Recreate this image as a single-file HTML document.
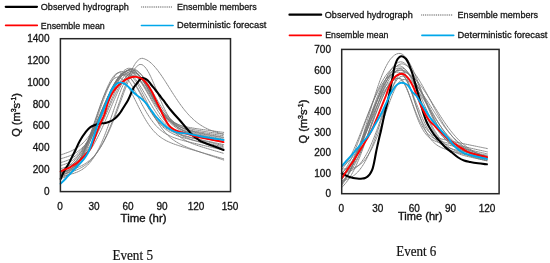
<!DOCTYPE html>
<html><head><meta charset="utf-8"><title>Event 5 and Event 6 hydrographs</title>
<style>
html,body{margin:0;padding:0;background:#fff;width:550px;height:263px;overflow:hidden}
svg{display:block}
text{font-family:"Liberation Sans",Arial,sans-serif;fill:#141414}
.lg text{font-size:9.8px;stroke:#141414;stroke-width:0.3px}
.tk text{font-size:10px;stroke:#141414;stroke-width:0.3px}
.ax text{font-size:11.8px;stroke:#141414;stroke-width:0.4px}
.ev text{font-family:"Liberation Serif","Times New Roman",serif;font-size:14px;fill:#111;stroke:#111;stroke-width:0.2px}
.dot{stroke:#8a8a8a;stroke-width:1.4;stroke-dasharray:1 0.86;stroke-linecap:butt}
.ens{stroke:#757575;stroke-width:0.85;stroke-dasharray:1 0.9}
</style></head>
<body>
<svg width="550" height="263" viewBox="0 0 550 263">
<rect width="550" height="263" fill="#fff"/>
<g stroke-linecap="round">
<line x1="5.7" y1="6.85" x2="37.0" y2="6.85" stroke="#000" stroke-width="2.1"/>
<line x1="5.6" y1="25.4" x2="37.3" y2="25.4" stroke="#f00" stroke-width="1.6"/>
<line x1="141.2" y1="7.05" x2="172.0" y2="7.05" class="dot"/>
<line x1="141.4" y1="25.45" x2="173.1" y2="25.45" stroke="#00a7ea" stroke-width="1.6"/>
<line x1="289.4" y1="14.65" x2="321.2" y2="14.65" stroke="#000" stroke-width="2.1"/>
<line x1="289.4" y1="35.4" x2="321.2" y2="35.4" stroke="#f00" stroke-width="1.6"/>
<line x1="421.2" y1="15.0" x2="453.0" y2="15.0" class="dot"/>
<line x1="421.9" y1="35.4" x2="453.7" y2="35.4" stroke="#00a7ea" stroke-width="1.6"/>
</g>
<g class="lg">
<text x="40.8" y="9.9" textLength="88" lengthAdjust="spacingAndGlyphs">Observed hydrograph</text>
<text x="40.8" y="28.5" textLength="64" lengthAdjust="spacingAndGlyphs">Ensemble mean</text>
<text x="177" y="9.8" textLength="79.8" lengthAdjust="spacingAndGlyphs">Ensemble members</text>
<text x="177" y="28.4" textLength="89.4" lengthAdjust="spacingAndGlyphs">Deterministic forecast</text>
<text x="324.8" y="17.9" textLength="87.9" lengthAdjust="spacingAndGlyphs">Observed hydrograph</text>
<text x="325.2" y="38.2" textLength="63.2" lengthAdjust="spacingAndGlyphs">Ensemble mean</text>
<text x="457.6" y="18" textLength="80.4" lengthAdjust="spacingAndGlyphs">Ensemble members</text>
<text x="457.6" y="38" textLength="89.8" lengthAdjust="spacingAndGlyphs">Deterministic forecast</text>
</g>
<g class="tk">
<text x="49.5" y="194.90" text-anchor="end">0</text>
<text x="49.5" y="173.06" text-anchor="end">200</text>
<text x="49.5" y="151.21" text-anchor="end">400</text>
<text x="49.5" y="129.37" text-anchor="end">600</text>
<text x="49.5" y="107.53" text-anchor="end">800</text>
<text x="49.5" y="85.69" text-anchor="end">1000</text>
<text x="49.5" y="63.84" text-anchor="end">1200</text>
<text x="49.5" y="42.00" text-anchor="end">1400</text>
<text x="60.10" y="209.9" text-anchor="middle">0</text>
<text x="94.10" y="209.9" text-anchor="middle">30</text>
<text x="128.10" y="209.9" text-anchor="middle">60</text>
<text x="162.10" y="209.9" text-anchor="middle">90</text>
<text x="196.10" y="209.9" text-anchor="middle">120</text>
<text x="230.10" y="209.9" text-anchor="middle">150</text>
<text x="331.0" y="197.40" text-anchor="end">0</text>
<text x="331.0" y="176.79" text-anchor="end">100</text>
<text x="331.0" y="156.17" text-anchor="end">200</text>
<text x="331.0" y="135.56" text-anchor="end">300</text>
<text x="331.0" y="114.94" text-anchor="end">400</text>
<text x="331.0" y="94.33" text-anchor="end">500</text>
<text x="331.0" y="73.71" text-anchor="end">600</text>
<text x="331.0" y="53.10" text-anchor="end">700</text>
<text x="341.40" y="212.3" text-anchor="middle">0</text>
<text x="377.80" y="212.3" text-anchor="middle">30</text>
<text x="414.20" y="212.3" text-anchor="middle">60</text>
<text x="450.60" y="212.3" text-anchor="middle">90</text>
<text x="487.00" y="212.3" text-anchor="middle">120</text>
</g>
<g class="ax">
<text x="120.6" y="221.5" textLength="45.9" lengthAdjust="spacingAndGlyphs">Time (hr)</text>
<text transform="translate(20.4,136.8) rotate(-90)" textLength="43.8" lengthAdjust="spacingAndGlyphs">Q (m<tspan font-size="7.5" dy="-4">3</tspan><tspan dy="4">s</tspan><tspan font-size="7.5" dy="-4">-1</tspan><tspan dy="4">)</tspan></text>
<text x="398" y="220.4" textLength="44.4" lengthAdjust="spacingAndGlyphs">Time (hr)</text>
<text transform="translate(307.3,143.4) rotate(-90)" textLength="43.8" lengthAdjust="spacingAndGlyphs">Q (m<tspan font-size="7.5" dy="-4">3</tspan><tspan dy="4">s</tspan><tspan font-size="7.5" dy="-4">-1</tspan><tspan dy="4">)</tspan></text>
</g>
<g fill="none" stroke-linecap="round" stroke-linejoin="round">
<path class="ens" d="M60.40,177.40 L62.67,176.91 L64.94,176.20 L67.20,175.16 L69.47,173.71 L71.74,171.77 L74.01,169.31 L76.28,166.28 L78.54,162.68 L80.81,158.49 L83.08,153.74 L85.35,148.46 L87.62,142.71 L89.88,136.55 L92.15,130.07 L94.42,123.38 L96.69,116.58 L98.96,109.81 L101.22,103.20 L103.49,96.89 L105.76,91.04 L108.03,85.77 L110.30,81.23 L112.56,77.54 L114.83,74.81 L117.10,73.13 L119.37,72.56 L121.64,73.45 L123.90,75.06 L126.17,77.36 L128.44,80.25 L130.71,83.67 L132.98,87.48 L135.24,91.59 L137.51,95.87 L139.78,100.20 L142.05,104.48 L144.32,108.62 L146.58,112.55 L148.85,116.21 L151.12,119.56 L153.39,122.59 L155.66,125.29 L157.92,127.67 L160.19,129.74 L162.46,131.55 L164.73,133.11 L167.00,134.47 L169.26,135.64 L171.53,136.67 L173.80,137.57 L176.07,138.38 L178.34,139.12 L180.60,139.79 L182.87,140.43 L185.14,141.03 L187.41,141.61 L189.68,142.17 L191.94,142.71 L194.21,143.26 L196.48,143.79 L198.75,144.32 L201.02,144.85 L203.28,145.38 L205.55,145.90 L207.82,146.43 L210.09,146.95 L212.36,147.48 L214.62,148.00 L216.89,148.53 L219.16,149.05 L221.43,149.57 L223.70,150.10"/>
<path class="ens" d="M60.40,175.22 L62.67,174.73 L64.94,174.05 L67.20,173.07 L69.47,171.72 L71.74,169.94 L74.01,167.68 L76.28,164.91 L78.54,161.61 L80.81,157.79 L83.08,153.44 L85.35,148.59 L87.62,143.29 L89.88,137.59 L92.15,131.56 L94.42,125.29 L96.69,118.86 L98.96,112.39 L101.22,105.99 L103.49,99.78 L105.76,93.90 L108.03,88.46 L110.30,83.59 L112.56,79.41 L114.83,76.03 L117.10,73.53 L119.37,71.99 L121.64,71.46 L123.90,72.28 L126.17,73.74 L128.44,75.81 L130.71,78.44 L132.98,81.55 L135.24,85.05 L137.51,88.85 L139.78,92.85 L142.05,96.93 L144.32,101.02 L146.58,105.02 L148.85,108.87 L151.12,112.51 L153.39,115.90 L155.66,119.01 L157.92,121.82 L160.19,124.34 L162.46,126.58 L164.73,128.54 L167.00,130.26 L169.26,131.76 L171.53,133.06 L173.80,134.20 L176.07,135.20 L178.34,136.08 L180.60,136.86 L182.87,137.58 L185.14,138.23 L187.41,138.83 L189.68,139.41 L191.94,139.95 L194.21,140.48 L196.48,140.99 L198.75,141.49 L201.02,141.99 L203.28,142.48 L205.55,142.97 L207.82,143.45 L210.09,143.93 L212.36,144.42 L214.62,144.90 L216.89,145.38 L219.16,145.86 L221.43,146.34 L223.70,146.82"/>
<path class="ens" d="M60.40,178.49 L62.67,177.98 L64.94,177.19 L67.20,176.01 L69.47,174.37 L71.74,172.19 L74.01,169.46 L76.28,166.15 L78.54,162.25 L80.81,157.79 L83.08,152.80 L85.35,147.33 L87.62,141.44 L89.88,135.21 L92.15,128.76 L94.42,122.17 L96.69,115.58 L98.96,109.11 L101.22,102.90 L103.49,97.07 L105.76,91.77 L108.03,87.11 L110.30,83.22 L112.56,80.19 L114.83,78.12 L117.10,77.06 L119.37,77.35 L121.64,78.80 L123.90,81.01 L126.17,83.91 L128.44,87.40 L130.71,91.36 L132.98,95.65 L135.24,100.13 L137.51,104.68 L139.78,109.18 L142.05,113.51 L144.32,117.60 L146.58,121.38 L148.85,124.83 L151.12,127.91 L153.39,130.65 L155.66,133.05 L157.92,135.13 L160.19,136.94 L162.46,138.51 L164.73,139.87 L167.00,141.06 L169.26,142.12 L171.53,143.08 L173.80,143.95 L176.07,144.75 L178.34,145.52 L180.60,146.25 L182.87,146.95 L185.14,147.64 L187.41,148.32 L189.68,148.98 L191.94,149.65 L194.21,150.31 L196.48,150.97 L198.75,151.62 L201.02,152.28 L203.28,152.94 L205.55,153.59 L207.82,154.25 L210.09,154.90 L212.36,155.56 L214.62,156.21 L216.89,156.87 L219.16,157.53 L221.43,158.18 L223.70,158.84"/>
<path class="ens" d="M60.40,155.01 L62.67,154.25 L64.94,153.46 L67.20,152.64 L69.47,151.74 L71.74,150.74 L74.01,149.60 L76.28,148.28 L78.54,146.75 L80.81,144.98 L83.08,142.92 L85.35,140.56 L87.62,137.88 L89.88,134.84 L92.15,131.46 L94.42,127.73 L96.69,123.67 L98.96,119.30 L101.22,114.67 L103.49,109.82 L105.76,104.84 L108.03,99.80 L110.30,94.80 L112.56,89.95 L114.83,85.38 L117.10,81.20 L119.37,77.54 L121.64,74.53 L123.90,72.26 L126.17,70.85 L128.44,70.37 L130.71,71.02 L132.98,72.33 L135.24,74.26 L137.51,76.75 L139.78,79.72 L142.05,83.05 L144.32,86.66 L146.58,90.42 L148.85,94.23 L151.12,98.00 L153.39,101.63 L155.66,105.07 L157.92,108.26 L160.19,111.17 L162.46,113.78 L164.73,116.09 L167.00,118.10 L169.26,119.84 L171.53,121.33 L173.80,122.59 L176.07,123.66 L178.34,124.56 L180.60,125.33 L182.87,125.99 L185.14,126.56 L187.41,127.06 L189.68,127.50 L191.94,127.91 L194.21,128.28 L196.48,128.64 L198.75,128.98 L201.02,129.31 L203.28,129.63 L205.55,129.94 L207.82,130.26 L210.09,130.56 L212.36,130.87 L214.62,131.18 L216.89,131.49 L219.16,131.79 L221.43,132.10 L223.70,132.41"/>
<path class="ens" d="M60.40,158.84 L62.67,158.18 L64.94,157.49 L67.20,156.75 L69.47,155.91 L71.74,154.94 L74.01,153.81 L76.28,152.47 L78.54,150.90 L80.81,149.06 L83.08,146.92 L85.35,144.47 L87.62,141.68 L89.88,138.54 L92.15,135.06 L94.42,131.24 L96.69,127.09 L98.96,122.64 L101.22,117.94 L103.49,113.04 L105.76,107.99 L108.03,102.87 L110.30,97.77 L112.56,92.78 L114.83,88.01 L117.10,83.55 L119.37,79.52 L121.64,76.03 L123.90,73.17 L126.17,71.05 L128.44,69.73 L130.71,69.28 L132.98,69.99 L135.24,71.40 L137.51,73.48 L139.78,76.15 L142.05,79.32 L144.32,82.88 L146.58,86.73 L148.85,90.75 L151.12,94.82 L153.39,98.84 L155.66,102.72 L157.92,106.39 L160.19,109.80 L162.46,112.91 L164.73,115.71 L167.00,118.18 L169.26,120.34 L171.53,122.21 L173.80,123.81 L176.07,125.18 L178.34,126.34 L180.60,127.32 L182.87,128.16 L185.14,128.88 L187.41,129.51 L189.68,130.06 L191.94,130.56 L194.21,131.02 L196.48,131.44 L198.75,131.84 L201.02,132.23 L203.28,132.60 L205.55,132.97 L207.82,133.33 L210.09,133.68 L212.36,134.04 L214.62,134.39 L216.89,134.74 L219.16,135.09 L221.43,135.44 L223.70,135.79"/>
<path class="ens" d="M60.40,162.66 L62.67,161.99 L64.94,161.28 L67.20,160.45 L69.47,159.47 L71.74,158.28 L74.01,156.85 L76.28,155.12 L78.54,153.07 L80.81,150.66 L83.08,147.88 L85.35,144.71 L87.62,141.15 L89.88,137.20 L92.15,132.88 L94.42,128.24 L96.69,123.30 L98.96,118.13 L101.22,112.80 L103.49,107.39 L105.76,102.00 L108.03,96.73 L110.30,91.69 L112.56,86.99 L114.83,82.74 L117.10,79.07 L119.37,76.08 L121.64,73.85 L123.90,72.48 L126.17,72.01 L128.44,72.81 L130.71,74.24 L132.98,76.26 L135.24,78.82 L137.51,81.84 L139.78,85.25 L142.05,88.94 L144.32,92.81 L146.58,96.78 L148.85,100.75 L151.12,104.64 L153.39,108.38 L155.66,111.91 L157.92,115.20 L160.19,118.23 L162.46,120.96 L164.73,123.42 L167.00,125.59 L169.26,127.51 L171.53,129.19 L173.80,130.65 L176.07,131.93 L178.34,133.04 L180.60,134.02 L182.87,134.89 L185.14,135.67 L187.41,136.37 L189.68,137.02 L191.94,137.62 L194.21,138.19 L196.48,138.73 L198.75,139.26 L201.02,139.77 L203.28,140.27 L205.55,140.77 L207.82,141.26 L210.09,141.74 L212.36,142.23 L214.62,142.71 L216.89,143.19 L219.16,143.68 L221.43,144.16 L223.70,144.64"/>
<path class="ens" d="M60.40,165.61 L62.67,164.94 L64.94,164.18 L67.20,163.29 L69.47,162.20 L71.74,160.87 L74.01,159.27 L76.28,157.35 L78.54,155.10 L80.81,152.50 L83.08,149.53 L85.35,146.19 L87.62,142.48 L89.88,138.42 L92.15,134.03 L94.42,129.34 L96.69,124.40 L98.96,119.25 L101.22,113.97 L103.49,108.60 L105.76,103.24 L108.03,97.96 L110.30,92.85 L112.56,88.00 L114.83,83.50 L117.10,79.43 L119.37,75.88 L121.64,72.93 L123.90,70.65 L126.17,69.08 L128.44,68.29 L130.71,68.43 L132.98,69.40 L135.24,70.99 L137.51,73.16 L139.78,75.83 L142.05,78.93 L144.32,82.36 L146.58,86.04 L148.85,89.85 L151.12,93.72 L153.39,97.53 L155.66,101.24 L157.92,104.76 L160.19,108.05 L162.46,111.08 L164.73,113.83 L167.00,116.30 L169.26,118.47 L171.53,120.38 L173.80,122.04 L176.07,123.46 L178.34,124.68 L180.60,125.73 L182.87,126.63 L185.14,127.40 L187.41,128.07 L189.68,128.66 L191.94,129.18 L194.21,129.65 L196.48,130.09 L198.75,130.49 L201.02,130.87 L203.28,131.24 L205.55,131.59 L207.82,131.94 L210.09,132.27 L212.36,132.61 L214.62,132.94 L216.89,133.27 L219.16,133.60 L221.43,133.93 L223.70,134.26"/>
<path class="ens" d="M60.40,168.77 L62.67,168.11 L64.94,167.40 L67.20,166.61 L69.47,165.68 L71.74,164.57 L74.01,163.26 L76.28,161.70 L78.54,159.86 L80.81,157.72 L83.08,155.24 L85.35,152.43 L87.62,149.25 L89.88,145.73 L92.15,141.85 L94.42,137.64 L96.69,133.11 L98.96,128.32 L101.22,123.29 L103.49,118.09 L105.76,112.78 L108.03,107.44 L110.30,102.14 L112.56,96.98 L114.83,92.04 L117.10,87.43 L119.37,83.23 L121.64,79.55 L123.90,76.46 L126.17,74.06 L128.44,72.41 L130.71,71.57 L132.98,71.77 L135.24,72.89 L137.51,74.67 L139.78,77.06 L142.05,79.97 L144.32,83.31 L146.58,86.99 L148.85,90.87 L151.12,94.86 L153.39,98.85 L155.66,102.75 L157.92,106.48 L160.19,109.98 L162.46,113.21 L164.73,116.14 L167.00,118.77 L169.26,121.09 L171.53,123.12 L173.80,124.88 L176.07,126.40 L178.34,127.71 L180.60,128.84 L182.87,129.81 L185.14,130.66 L187.41,131.40 L189.68,132.07 L191.94,132.67 L194.21,133.23 L196.48,133.75 L198.75,134.25 L201.02,134.73 L203.28,135.19 L205.55,135.65 L207.82,136.10 L210.09,136.54 L212.36,136.98 L214.62,137.42 L216.89,137.86 L219.16,138.30 L221.43,138.74 L223.70,139.18"/>
<path class="ens" d="M60.40,170.85 L62.67,169.72 L64.94,168.47 L67.20,167.02 L69.47,165.32 L71.74,163.35 L74.01,161.07 L76.28,158.48 L78.54,155.55 L80.81,152.28 L83.08,148.69 L85.35,144.79 L87.62,140.60 L89.88,136.14 L92.15,131.46 L94.42,126.58 L96.69,121.58 L98.96,116.49 L101.22,111.37 L103.49,106.29 L105.76,101.31 L108.03,96.49 L110.30,91.90 L112.56,87.61 L114.83,83.66 L117.10,80.13 L119.37,77.06 L121.64,74.49 L123.90,72.46 L126.17,71.00 L128.44,70.12 L130.71,69.83 L132.98,70.53 L135.24,71.86 L137.51,73.78 L139.78,76.22 L142.05,79.12 L144.32,82.40 L146.58,85.96 L148.85,89.70 L151.12,93.54 L153.39,97.37 L155.66,101.13 L157.92,104.73 L160.19,108.14 L162.46,111.31 L164.73,114.21 L167.00,116.83 L169.26,119.16 L171.53,121.23 L173.80,123.04 L176.07,124.61 L178.34,125.98 L180.60,127.16 L182.87,128.18 L185.14,129.06 L187.41,129.84 L189.68,130.52 L191.94,131.14 L194.21,131.69 L196.48,132.21 L198.75,132.69 L201.02,133.14 L203.28,133.58 L205.55,134.00 L207.82,134.42 L210.09,134.83 L212.36,135.23 L214.62,135.63 L216.89,136.02 L219.16,136.42 L221.43,136.82 L223.70,137.21"/>
<path class="ens" d="M60.40,172.49 L62.67,171.37 L64.94,170.16 L67.20,168.80 L69.47,167.23 L71.74,165.42 L74.01,163.35 L76.28,160.98 L78.54,158.31 L80.81,155.31 L83.08,152.00 L85.35,148.38 L87.62,144.45 L89.88,140.24 L92.15,135.77 L94.42,131.07 L96.69,126.19 L98.96,121.17 L101.22,116.06 L103.49,110.92 L105.76,105.81 L108.03,100.79 L110.30,95.92 L112.56,91.28 L114.83,86.92 L117.10,82.91 L119.37,79.31 L121.64,76.17 L123.90,73.54 L126.17,71.45 L128.44,69.95 L130.71,69.04 L132.98,68.73 L135.24,69.46 L137.51,70.82 L139.78,72.80 L142.05,75.33 L144.32,78.34 L146.58,81.73 L148.85,85.43 L151.12,89.31 L153.39,93.29 L155.66,97.26 L157.92,101.16 L160.19,104.90 L162.46,108.43 L164.73,111.72 L167.00,114.72 L169.26,117.43 L171.53,119.85 L173.80,121.99 L176.07,123.86 L178.34,125.48 L180.60,126.89 L182.87,128.10 L185.14,129.14 L187.41,130.05 L189.68,130.84 L191.94,131.54 L194.21,132.16 L196.48,132.73 L198.75,133.24 L201.02,133.73 L203.28,134.19 L205.55,134.63 L207.82,135.05 L210.09,135.47 L212.36,135.87 L214.62,136.28 L216.89,136.68 L219.16,137.07 L221.43,137.47 L223.70,137.86"/>
<path class="ens" d="M60.40,171.94 L62.67,171.03 L64.94,169.98 L67.20,168.71 L69.47,167.18 L71.74,165.33 L74.01,163.14 L76.28,160.60 L78.54,157.68 L80.81,154.39 L83.08,150.72 L85.35,146.70 L87.62,142.35 L89.88,137.70 L92.15,132.78 L94.42,127.65 L96.69,122.37 L98.96,116.99 L101.22,111.59 L103.49,106.23 L105.76,101.00 L108.03,95.96 L110.30,91.20 L112.56,86.79 L114.83,82.80 L117.10,79.30 L119.37,76.36 L121.64,74.01 L123.90,72.30 L126.17,71.26 L128.44,70.92 L130.71,71.76 L132.98,73.20 L135.24,75.20 L137.51,77.71 L139.78,80.67 L142.05,84.01 L144.32,87.65 L146.58,91.49 L148.85,95.46 L151.12,99.47 L153.39,103.44 L155.66,107.31 L157.92,111.01 L160.19,114.52 L162.46,117.78 L164.73,120.79 L167.00,123.53 L169.26,126.01 L171.53,128.23 L173.80,130.20 L176.07,131.95 L178.34,133.50 L180.60,134.86 L182.87,136.07 L185.14,137.15 L187.41,138.11 L189.68,138.99 L191.94,139.78 L194.21,140.52 L196.48,141.21 L198.75,141.86 L201.02,142.49 L203.28,143.09 L205.55,143.67 L207.82,144.25 L210.09,144.81 L212.36,145.37 L214.62,145.93 L216.89,146.48 L219.16,147.03 L221.43,147.58 L223.70,148.13"/>
<path class="ens" d="M60.40,173.58 L62.67,172.70 L64.94,171.76 L67.20,170.72 L69.47,169.53 L71.74,168.17 L74.01,166.59 L76.28,164.76 L78.54,162.66 L80.81,160.28 L83.08,157.58 L85.35,154.56 L87.62,151.23 L89.88,147.58 L92.15,143.62 L94.42,139.38 L96.69,134.87 L98.96,130.14 L101.22,125.22 L103.49,120.17 L105.76,115.04 L108.03,109.89 L110.30,104.80 L112.56,99.83 L114.83,95.06 L117.10,90.56 L119.37,86.42 L121.64,82.70 L123.90,79.47 L126.17,76.81 L128.44,74.75 L130.71,73.35 L132.98,72.65 L135.24,72.86 L137.51,73.99 L139.78,75.78 L142.05,78.19 L144.32,81.12 L146.58,84.49 L148.85,88.19 L151.12,92.10 L153.39,96.12 L155.66,100.14 L157.92,104.07 L160.19,107.83 L162.46,111.36 L164.73,114.62 L167.00,117.57 L169.26,120.22 L171.53,122.55 L173.80,124.60 L176.07,126.37 L178.34,127.90 L180.60,129.22 L182.87,130.35 L185.14,131.32 L187.41,132.18 L189.68,132.92 L191.94,133.59 L194.21,134.20 L196.48,134.76 L198.75,135.28 L201.02,135.78 L203.28,136.26 L205.55,136.72 L207.82,137.18 L210.09,137.63 L212.36,138.07 L214.62,138.51 L216.89,138.95 L219.16,139.39 L221.43,139.83 L223.70,140.27"/>
<path class="ens" d="M60.40,174.13 L62.67,173.43 L64.94,172.59 L67.20,171.52 L69.47,170.17 L71.74,168.49 L74.01,166.45 L76.28,164.03 L78.54,161.20 L80.81,157.97 L83.08,154.33 L85.35,150.31 L87.62,145.91 L89.88,141.19 L92.15,136.17 L94.42,130.92 L96.69,125.48 L98.96,119.94 L101.22,114.35 L103.49,108.81 L105.76,103.40 L108.03,98.19 L110.30,93.29 L112.56,88.76 L114.83,84.71 L117.10,81.19 L119.37,78.28 L121.64,76.04 L123.90,74.52 L126.17,73.75 L128.44,74.12 L130.71,75.63 L132.98,77.84 L135.24,80.71 L137.51,84.14 L139.78,88.03 L142.05,92.28 L144.32,96.76 L146.58,101.35 L148.85,105.95 L151.12,110.44 L153.39,114.76 L155.66,118.82 L157.92,122.60 L160.19,126.05 L162.46,129.17 L164.73,131.97 L167.00,134.45 L169.26,136.64 L171.53,138.57 L173.80,140.28 L176.07,141.78 L178.34,143.13 L180.60,144.33 L182.87,145.43 L185.14,146.44 L187.41,147.39 L189.68,148.28 L191.94,149.14 L194.21,149.97 L196.48,150.78 L198.75,151.57 L201.02,152.36 L203.28,153.13 L205.55,153.91 L207.82,154.68 L210.09,155.44 L212.36,156.21 L214.62,156.98 L216.89,157.74 L219.16,158.51 L221.43,159.27 L223.70,160.04"/>
<path class="ens" d="M60.40,173.03 L62.67,172.16 L64.94,171.25 L67.20,170.30 L69.47,169.25 L71.74,168.09 L74.01,166.77 L76.28,165.26 L78.54,163.53 L80.81,161.56 L83.08,159.31 L85.35,156.76 L87.62,153.90 L89.88,150.71 L92.15,147.19 L94.42,143.34 L96.69,139.17 L98.96,134.70 L101.22,129.95 L103.49,124.96 L105.76,119.79 L108.03,114.49 L110.30,109.12 L112.56,103.76 L114.83,98.50 L117.10,93.42 L119.37,88.62 L121.64,84.20 L123.90,80.24 L126.17,76.84 L128.44,74.08 L130.71,72.05 L132.98,70.80 L135.24,70.37 L137.51,71.42 L139.78,73.25 L142.05,75.81 L144.32,79.01 L146.58,82.78 L148.85,86.97 L151.12,91.48 L153.39,96.17 L155.66,100.92 L157.92,105.62 L160.19,110.16 L162.46,114.48 L164.73,118.50 L167.00,122.20 L169.26,125.54 L171.53,128.53 L173.80,131.18 L176.07,133.51 L178.34,135.55 L180.60,137.32 L182.87,138.86 L185.14,140.22 L187.41,141.41 L189.68,142.48 L191.94,143.44 L194.21,144.32 L196.48,145.14 L198.75,145.91 L201.02,146.65 L203.28,147.36 L205.55,148.06 L207.82,148.74 L210.09,149.41 L212.36,150.08 L214.62,150.74 L216.89,151.40 L219.16,152.06 L221.43,152.72 L223.70,153.37"/>
<path class="ens" d="M60.40,175.22 L62.67,174.53 L64.94,173.72 L67.20,172.70 L69.47,171.40 L71.74,169.77 L74.01,167.78 L76.28,165.39 L78.54,162.57 L80.81,159.31 L83.08,155.61 L85.35,151.48 L87.62,146.95 L89.88,142.04 L92.15,136.79 L94.42,131.28 L96.69,125.56 L98.96,119.72 L101.22,113.84 L103.49,108.01 L105.76,102.35 L108.03,96.95 L110.30,91.93 L112.56,87.37 L114.83,83.39 L117.10,80.08 L119.37,77.51 L121.64,75.75 L123.90,74.85 L126.17,75.11 L128.44,76.38 L130.71,78.36 L132.98,80.96 L135.24,84.11 L137.51,87.69 L139.78,91.57 L142.05,95.63 L144.32,99.76 L146.58,103.83 L148.85,107.75 L151.12,111.45 L153.39,114.87 L155.66,117.97 L157.92,120.75 L160.19,123.21 L162.46,125.36 L164.73,127.22 L167.00,128.82 L169.26,130.20 L171.53,131.40 L173.80,132.44 L176.07,133.36 L178.34,134.18 L180.60,134.92 L182.87,135.61 L185.14,136.25 L187.41,136.86 L189.68,137.46 L191.94,138.03 L194.21,138.60 L196.48,139.16 L198.75,139.71 L201.02,140.26 L203.28,140.81 L205.55,141.36 L207.82,141.91 L210.09,142.45 L212.36,143.00 L214.62,143.55 L216.89,144.09 L219.16,144.64 L221.43,145.18 L223.70,145.73"/>
<path class="ens" d="M60.40,176.31 L62.67,175.87 L64.94,175.43 L67.20,174.97 L69.47,174.47 L71.74,173.90 L74.01,173.24 L76.28,172.45 L78.54,171.50 L80.81,170.33 L83.08,168.91 L85.35,167.19 L87.62,165.12 L89.88,162.67 L92.15,159.79 L94.42,156.45 L96.69,152.62 L98.96,148.30 L101.22,143.48 L103.49,138.18 L105.76,132.44 L108.03,126.32 L110.30,119.91 L112.56,113.32 L114.83,106.69 L117.10,100.17 L119.37,93.97 L121.64,88.28 L123.90,83.31 L126.17,79.30 L128.44,76.44 L130.71,74.94 L132.98,75.06 L135.24,76.13 L137.51,77.77 L139.78,79.94 L142.05,82.57 L144.32,85.60 L146.58,88.94 L148.85,92.50 L151.12,96.19 L153.39,99.92 L155.66,103.61 L157.92,107.19 L160.19,110.61 L162.46,113.81 L164.73,116.78 L167.00,119.49 L169.26,121.93 L171.53,124.11 L173.80,126.05 L176.07,127.75 L178.34,129.24 L180.60,130.54 L182.87,131.68 L185.14,132.69 L187.41,133.58 L189.68,134.37 L191.94,135.09 L194.21,135.75 L196.48,136.37 L198.75,136.94 L201.02,137.49 L203.28,138.02 L205.55,138.54 L207.82,139.04 L210.09,139.54 L212.36,140.03 L214.62,140.52 L216.89,141.00 L219.16,141.49 L221.43,141.97 L223.70,142.45"/>
<path class="ens" d="M60.40,175.22 L62.67,174.56 L64.94,173.90 L67.20,173.23 L69.47,172.53 L71.74,171.79 L74.01,170.98 L76.28,170.08 L78.54,169.07 L80.81,167.91 L83.08,166.58 L85.35,165.04 L87.62,163.27 L89.88,161.22 L92.15,158.86 L94.42,156.17 L96.69,153.12 L98.96,149.69 L101.22,145.87 L103.49,141.63 L105.76,136.99 L108.03,131.95 L110.30,126.54 L112.56,120.80 L114.83,114.77 L117.10,108.52 L119.37,102.13 L121.64,95.71 L123.90,89.36 L126.17,83.22 L128.44,77.42 L130.71,72.12 L132.98,67.46 L135.24,63.61 L137.51,60.70 L139.78,58.88 L142.05,58.25 L144.32,58.80 L146.58,59.80 L148.85,61.22 L151.12,63.06 L153.39,65.27 L155.66,67.83 L157.92,70.68 L160.19,73.78 L162.46,77.08 L164.73,80.52 L167.00,84.07 L169.26,87.66 L171.53,91.26 L173.80,94.81 L176.07,98.28 L178.34,101.63 L180.60,104.84 L182.87,107.89 L185.14,110.75 L187.41,113.42 L189.68,115.89 L191.94,118.16 L194.21,120.23 L196.48,122.11 L198.75,123.81 L201.02,125.34 L203.28,126.71 L205.55,127.93 L207.82,129.02 L210.09,130.00 L212.36,130.87 L214.62,131.65 L216.89,132.35 L219.16,132.98 L221.43,133.56 L223.70,134.09"/>
<path class="ens" d="M60.40,173.03 L62.67,172.38 L64.94,171.72 L67.20,171.05 L69.47,170.37 L71.74,169.65 L74.01,168.89 L76.28,168.06 L78.54,167.13 L80.81,166.09 L83.08,164.90 L85.35,163.53 L87.62,161.95 L89.88,160.13 L92.15,158.03 L94.42,155.62 L96.69,152.88 L98.96,149.76 L101.22,146.26 L103.49,142.36 L105.76,138.05 L108.03,133.34 L110.30,128.25 L112.56,122.80 L114.83,117.04 L117.10,111.04 L119.37,104.89 L121.64,98.69 L123.90,92.55 L126.17,86.62 L128.44,81.05 L130.71,76.00 L132.98,71.65 L135.24,68.17 L137.51,65.71 L139.78,64.42 L142.05,64.63 L144.32,66.27 L146.58,69.06 L148.85,72.84 L151.12,77.44 L153.39,82.61 L155.66,88.13 L157.92,93.77 L160.19,99.30 L162.46,104.56 L164.73,109.41 L167.00,113.77 L169.26,117.59 L171.53,120.87 L173.80,123.63 L176.07,125.92 L178.34,127.80 L180.60,129.33 L182.87,130.58 L185.14,131.60 L187.41,132.45 L189.68,133.18 L191.94,133.81 L194.21,134.38 L196.48,134.90 L198.75,135.38 L201.02,135.85 L203.28,136.31 L205.55,136.76 L207.82,137.20 L210.09,137.64 L212.36,138.08 L214.62,138.52 L216.89,138.96 L219.16,139.40 L221.43,139.83 L223.70,140.27"/>
<path d="M60.60,179.00 C61.17,177.75 62.68,174.00 64.00,171.50 C65.32,169.00 67.12,166.52 68.50,164.00 C69.88,161.48 71.13,158.73 72.30,156.40 C73.47,154.07 74.25,152.57 75.50,150.00 C76.75,147.43 78.05,144.05 79.80,141.00 C81.55,137.95 84.23,134.00 86.00,131.70 C87.77,129.40 88.65,128.40 90.40,127.20 C92.15,126.00 94.87,125.12 96.50,124.50 C98.13,123.88 98.70,123.75 100.20,123.50 C101.70,123.25 103.73,123.40 105.50,123.00 C107.27,122.60 109.28,121.80 110.80,121.10 C112.32,120.40 113.33,119.82 114.60,118.80 C115.87,117.78 117.38,116.13 118.40,115.00 C119.42,113.87 119.85,113.25 120.70,112.00 C121.55,110.75 122.28,109.47 123.50,107.50 C124.72,105.53 126.85,102.28 128.00,100.20 C129.15,98.12 129.48,97.05 130.40,95.00 C131.32,92.95 132.53,89.68 133.50,87.90 C134.47,86.12 135.28,85.52 136.20,84.30 C137.12,83.08 138.20,81.53 139.00,80.60 C139.80,79.67 140.37,79.13 141.00,78.70 C141.63,78.27 142.13,78.02 142.80,78.00 C143.47,77.98 144.17,78.20 145.00,78.60 C145.83,79.00 146.80,79.42 147.80,80.40 C148.80,81.38 149.72,82.90 151.00,84.50 C152.28,86.10 154.12,88.25 155.50,90.00 C156.88,91.75 158.03,93.35 159.30,95.00 C160.57,96.65 161.83,98.23 163.10,99.90 C164.37,101.57 165.63,103.32 166.90,105.00 C168.17,106.68 169.35,108.33 170.70,110.00 C172.05,111.67 173.45,113.25 175.00,115.00 C176.55,116.75 178.40,118.67 180.00,120.50 C181.60,122.33 183.27,124.42 184.60,126.00 C185.93,127.58 186.93,128.73 188.00,130.00 C189.07,131.27 190.03,132.53 191.00,133.60 C191.97,134.67 192.70,135.50 193.80,136.40 C194.90,137.30 196.57,138.27 197.60,139.00 C198.63,139.73 198.77,140.13 200.00,140.80 C201.23,141.47 203.42,142.33 205.00,143.00 C206.58,143.67 208.12,144.30 209.50,144.80 C210.88,145.30 211.88,145.50 213.30,146.00 C214.72,146.50 216.28,147.15 218.00,147.80 C219.72,148.45 222.67,149.55 223.60,149.90" stroke="#000" stroke-width="2.1"/>
<path d="M60.60,171.50 C61.08,171.27 62.40,170.59 63.50,170.10 C64.60,169.61 66.03,169.04 67.20,168.54 C68.37,168.04 69.45,167.68 70.50,167.11 C71.55,166.54 72.30,165.92 73.50,165.10 C74.70,164.28 76.37,163.25 77.70,162.20 C79.03,161.15 80.37,159.90 81.50,158.80 C82.63,157.70 83.50,156.67 84.50,155.60 C85.50,154.53 86.58,153.45 87.50,152.40 C88.42,151.35 89.25,150.48 90.00,149.30 C90.75,148.12 91.28,146.93 92.00,145.30 C92.72,143.67 93.42,141.88 94.30,139.50 C95.18,137.12 96.23,133.83 97.30,131.00 C98.37,128.17 99.55,125.17 100.70,122.50 C101.85,119.83 103.07,118.08 104.20,115.00 C105.33,111.92 106.57,106.83 107.50,104.00 C108.43,101.17 108.83,100.05 109.80,98.00 C110.77,95.95 111.97,93.70 113.30,91.70 C114.63,89.70 116.35,87.58 117.80,86.00 C119.25,84.42 120.47,83.40 122.00,82.20 C123.53,81.00 125.22,79.67 127.00,78.80 C128.78,77.93 131.20,77.32 132.70,77.00 C134.20,76.68 134.95,76.80 136.00,76.90 C137.05,77.00 137.90,77.20 139.00,77.60 C140.10,78.00 141.20,78.15 142.60,79.30 C144.00,80.45 145.82,82.37 147.40,84.50 C148.98,86.63 150.77,89.65 152.10,92.10 C153.43,94.55 154.42,97.13 155.40,99.20 C156.38,101.27 157.22,102.95 158.00,104.50 C158.78,106.05 159.32,106.83 160.10,108.50 C160.88,110.17 161.80,112.58 162.70,114.50 C163.60,116.42 164.53,118.28 165.50,120.00 C166.47,121.72 167.33,123.37 168.50,124.80 C169.67,126.23 171.18,127.62 172.50,128.60 C173.82,129.58 174.98,130.10 176.40,130.70 C177.82,131.30 179.40,131.72 181.00,132.20 C182.60,132.68 184.18,133.08 186.00,133.60 C187.82,134.12 189.65,134.68 191.90,135.30 C194.15,135.92 196.48,136.63 199.50,137.30 C202.52,137.97 206.58,138.63 210.00,139.30 C213.42,139.97 217.73,140.83 220.00,141.30 C222.27,141.77 223.00,141.97 223.60,142.10" stroke="#f00" stroke-width="1.9"/>
<path d="M60.60,183.70 C61.50,182.79 64.10,180.20 66.00,178.22 C67.90,176.24 69.92,173.98 72.00,171.81 C74.08,169.64 76.60,167.23 78.50,165.20 C80.40,163.16 82.08,161.22 83.40,159.60 C84.72,157.98 85.50,156.93 86.40,155.50 C87.30,154.07 88.07,152.58 88.80,151.00 C89.53,149.42 90.15,147.83 90.80,146.00 C91.45,144.17 91.95,142.33 92.70,140.00 C93.45,137.67 94.38,134.83 95.30,132.00 C96.22,129.17 97.17,125.92 98.20,123.00 C99.23,120.08 100.28,117.58 101.50,114.50 C102.72,111.42 104.20,107.75 105.50,104.50 C106.80,101.25 108.27,97.48 109.30,95.00 C110.33,92.52 110.72,91.25 111.70,89.60 C112.68,87.95 113.78,86.30 115.20,85.10 C116.62,83.90 118.55,82.57 120.20,82.40 C121.85,82.23 123.40,83.05 125.10,84.10 C126.80,85.15 128.75,87.08 130.40,88.70 C132.05,90.32 133.22,92.18 135.00,93.80 C136.78,95.42 139.20,96.75 141.10,98.40 C143.00,100.05 144.75,101.77 146.40,103.70 C148.05,105.63 149.57,108.03 151.00,110.00 C152.43,111.97 153.50,113.67 155.00,115.50 C156.50,117.33 158.50,119.42 160.00,121.00 C161.50,122.58 162.62,123.78 164.00,125.00 C165.38,126.22 166.80,127.30 168.30,128.30 C169.80,129.30 171.42,130.28 173.00,131.00 C174.58,131.72 175.63,132.20 177.80,132.60 C179.97,133.00 183.97,133.15 186.00,133.40 C188.03,133.65 187.67,133.63 190.00,134.10 C192.33,134.57 196.67,135.57 200.00,136.20 C203.33,136.83 206.67,137.37 210.00,137.90 C213.33,138.43 217.73,139.05 220.00,139.40 C222.27,139.75 223.00,139.90 223.60,140.00" stroke="#00a7ea" stroke-width="1.9"/>
<path class="ens" d="M341.70,168.96 L343.72,166.95 L345.74,164.37 L347.77,161.27 L349.79,157.70 L351.81,153.70 L353.83,149.34 L355.86,144.68 L357.88,139.77 L359.90,134.70 L361.92,129.51 L363.94,124.27 L365.97,119.05 L367.99,113.91 L370.01,108.90 L372.03,104.08 L374.06,99.49 L376.08,95.17 L378.10,91.17 L380.12,87.52 L382.14,84.24 L384.17,81.34 L386.19,78.85 L388.21,76.76 L390.23,75.07 L392.26,73.77 L394.28,72.86 L396.30,72.30 L398.32,72.08 L400.34,72.71 L402.37,74.33 L404.39,76.82 L406.41,80.11 L408.43,84.07 L410.46,88.56 L412.48,93.45 L414.50,98.57 L416.52,103.77 L418.54,108.93 L420.57,113.91 L422.59,118.62 L424.61,123.00 L426.63,126.99 L428.66,130.56 L430.68,133.72 L432.70,136.47 L434.72,138.84 L436.74,140.86 L438.77,142.57 L440.79,144.01 L442.81,145.23 L444.83,146.27 L446.86,147.15 L448.88,147.91 L450.90,148.58 L452.92,149.18 L454.94,149.72 L456.97,150.22 L458.99,150.70 L461.01,151.15 L463.03,151.60 L465.06,152.03 L467.08,152.45 L469.10,152.87 L471.12,153.29 L473.14,153.70 L475.17,154.12 L477.19,154.53 L479.21,154.94 L481.23,155.36 L483.26,155.77 L485.28,156.18 L487.30,156.59"/>
<path class="ens" d="M341.70,173.09 L343.72,171.05 L345.74,168.42 L347.77,165.22 L349.79,161.51 L351.81,157.34 L353.83,152.77 L355.86,147.85 L357.88,142.65 L359.90,137.24 L361.92,131.68 L363.94,126.04 L365.97,120.39 L367.99,114.78 L370.01,109.28 L372.03,103.94 L374.06,98.83 L376.08,93.97 L378.10,89.43 L380.12,85.24 L382.14,81.42 L384.17,78.00 L386.19,75.01 L388.21,72.44 L390.23,70.31 L392.26,68.61 L394.28,67.34 L396.30,66.48 L398.32,66.00 L400.34,65.98 L402.37,66.84 L404.39,68.43 L406.41,70.71 L408.43,73.63 L410.46,77.12 L412.48,81.10 L414.50,85.46 L416.52,90.11 L418.54,94.96 L420.57,99.89 L422.59,104.83 L424.61,109.69 L426.63,114.39 L428.66,118.87 L430.68,123.09 L432.70,127.01 L434.72,130.61 L436.74,133.88 L438.77,136.82 L440.79,139.43 L442.81,141.75 L444.83,143.77 L446.86,145.54 L448.88,147.07 L450.90,148.40 L452.92,149.54 L454.94,150.53 L456.97,151.39 L458.99,152.15 L461.01,152.81 L463.03,153.40 L465.06,153.93 L467.08,154.42 L469.10,154.87 L471.12,155.29 L473.14,155.70 L475.17,156.08 L477.19,156.46 L479.21,156.82 L481.23,157.18 L483.26,157.53 L485.28,157.88 L487.30,158.23"/>
<path class="ens" d="M341.70,177.21 L343.72,174.99 L345.74,172.39 L347.77,169.38 L349.79,165.95 L351.81,162.13 L353.83,157.94 L355.86,153.42 L357.88,148.63 L359.90,143.62 L361.92,138.45 L363.94,133.17 L365.97,127.86 L367.99,122.58 L370.01,117.38 L372.03,112.34 L374.06,107.51 L376.08,102.94 L378.10,98.68 L380.12,94.78 L382.14,91.26 L384.17,88.15 L386.19,85.47 L388.21,83.22 L390.23,81.42 L392.26,80.04 L394.28,79.07 L396.30,78.49 L398.32,78.27 L400.34,79.01 L402.37,81.04 L404.39,84.16 L406.41,88.21 L408.43,92.96 L410.46,98.16 L412.48,103.55 L414.50,108.90 L416.52,114.01 L418.54,118.72 L420.57,122.95 L422.59,126.63 L424.61,129.77 L426.63,132.38 L428.66,134.53 L430.68,136.27 L432.70,137.68 L434.72,138.82 L436.74,139.75 L438.77,140.53 L440.79,141.20 L442.81,141.80 L444.83,142.34 L446.86,142.84 L448.88,143.32 L450.90,143.79 L452.92,144.25 L454.94,144.70 L456.97,145.15 L458.99,145.60 L461.01,146.05 L463.03,146.49 L465.06,146.94 L467.08,147.39 L469.10,147.83 L471.12,148.28 L473.14,148.73 L475.17,149.17 L477.19,149.62 L479.21,150.07 L481.23,150.51 L483.26,150.96 L485.28,151.41 L487.30,151.85"/>
<path class="ens" d="M341.70,175.15 L343.72,173.69 L345.74,171.97 L347.77,169.90 L349.79,167.45 L351.81,164.58 L353.83,161.28 L355.86,157.56 L357.88,153.44 L359.90,148.92 L361.92,144.04 L363.94,138.85 L365.97,133.39 L367.99,127.72 L370.01,121.90 L372.03,115.99 L374.06,110.07 L376.08,104.20 L378.10,98.47 L380.12,92.94 L382.14,87.68 L384.17,82.77 L386.19,78.26 L388.21,74.22 L390.23,70.69 L392.26,67.71 L394.28,65.32 L396.30,63.53 L398.32,62.36 L400.34,61.82 L402.37,62.09 L404.39,63.11 L406.41,64.73 L408.43,66.93 L410.46,69.65 L412.48,72.85 L414.50,76.47 L416.52,80.44 L418.54,84.68 L420.57,89.13 L422.59,93.70 L424.61,98.33 L426.63,102.94 L428.66,107.48 L430.68,111.89 L432.70,116.13 L434.72,120.15 L436.74,123.94 L438.77,127.47 L440.79,130.72 L442.81,133.70 L444.83,136.40 L446.86,138.84 L448.88,141.02 L450.90,142.97 L452.92,144.69 L454.94,146.21 L456.97,147.55 L458.99,148.73 L461.01,149.77 L463.03,150.69 L465.06,151.50 L467.08,152.22 L469.10,152.87 L471.12,153.45 L473.14,153.99 L475.17,154.48 L477.19,154.94 L479.21,155.37 L481.23,155.78 L483.26,156.18 L485.28,156.56 L487.30,156.93"/>
<path class="ens" d="M341.70,179.27 L343.72,176.79 L345.74,174.05 L347.77,171.01 L349.79,167.61 L351.81,163.87 L353.83,159.77 L355.86,155.34 L357.88,150.61 L359.90,145.60 L361.92,140.37 L363.94,134.97 L365.97,129.45 L367.99,123.87 L370.01,118.29 L372.03,112.79 L374.06,107.42 L376.08,102.24 L378.10,97.32 L380.12,92.71 L382.14,88.46 L384.17,84.61 L386.19,81.19 L388.21,78.23 L390.23,75.73 L392.26,73.71 L394.28,72.15 L396.30,71.04 L398.32,70.35 L400.34,70.04 L402.37,70.32 L404.39,71.16 L406.41,72.41 L408.43,74.06 L410.46,76.09 L412.48,78.46 L414.50,81.15 L416.52,84.12 L418.54,87.33 L420.57,90.74 L422.59,94.30 L424.61,97.97 L426.63,101.70 L428.66,105.45 L430.68,109.20 L432.70,112.89 L434.72,116.49 L436.74,119.99 L438.77,123.35 L440.79,126.56 L442.81,129.60 L444.83,132.46 L446.86,135.14 L448.88,137.63 L450.90,139.93 L452.92,142.04 L454.94,143.98 L456.97,145.75 L458.99,147.36 L461.01,148.82 L463.03,150.14 L465.06,151.34 L467.08,152.42 L469.10,153.40 L471.12,154.29 L473.14,155.10 L475.17,155.84 L477.19,156.52 L479.21,157.15 L481.23,157.74 L483.26,158.28 L485.28,158.80 L487.30,159.28"/>
<path class="ens" d="M341.70,181.33 L343.72,179.54 L345.74,177.51 L347.77,175.18 L349.79,172.51 L351.81,169.48 L353.83,166.09 L355.86,162.34 L357.88,158.25 L359.90,153.85 L361.92,149.16 L363.94,144.24 L365.97,139.11 L367.99,133.84 L370.01,128.47 L372.03,123.07 L374.06,117.70 L376.08,112.42 L378.10,107.29 L380.12,102.37 L382.14,97.71 L384.17,93.37 L386.19,89.40 L388.21,85.84 L390.23,82.72 L392.26,80.07 L394.28,77.90 L396.30,76.23 L398.32,75.05 L400.34,74.36 L402.37,74.14 L404.39,74.92 L406.41,76.45 L408.43,78.67 L410.46,81.55 L412.48,84.98 L414.50,88.90 L416.52,93.19 L418.54,97.75 L420.57,102.48 L422.59,107.26 L424.61,112.01 L426.63,116.64 L428.66,121.07 L430.68,125.26 L432.70,129.15 L434.72,132.73 L436.74,135.97 L438.77,138.88 L440.79,141.46 L442.81,143.74 L444.83,145.73 L446.86,147.46 L448.88,148.96 L450.90,150.25 L452.92,151.38 L454.94,152.35 L456.97,153.21 L458.99,153.96 L461.01,154.63 L463.03,155.24 L465.06,155.81 L467.08,156.33 L469.10,156.82 L471.12,157.29 L473.14,157.74 L475.17,158.18 L477.19,158.61 L479.21,159.04 L481.23,159.46 L483.26,159.88 L485.28,160.30 L487.30,160.71"/>
<path class="ens" d="M341.70,173.09 L343.72,172.73 L345.74,172.33 L347.77,171.82 L349.79,171.15 L351.81,170.28 L353.83,169.16 L355.86,167.75 L357.88,166.00 L359.90,163.88 L361.92,161.37 L363.94,158.43 L365.97,155.07 L367.99,151.27 L370.01,147.05 L372.03,142.43 L374.06,137.44 L376.08,132.13 L378.10,126.56 L380.12,120.81 L382.14,114.96 L384.17,109.11 L386.19,103.38 L388.21,97.89 L390.23,92.75 L392.26,88.10 L394.28,84.05 L396.30,80.74 L398.32,78.26 L400.34,76.72 L402.37,76.20 L404.39,76.70 L406.41,77.53 L408.43,78.67 L410.46,80.11 L412.48,81.84 L414.50,83.83 L416.52,86.07 L418.54,88.53 L420.57,91.18 L422.59,93.99 L424.61,96.93 L426.63,99.97 L428.66,103.09 L430.68,106.24 L432.70,109.41 L434.72,112.55 L436.74,115.66 L438.77,118.71 L440.79,121.67 L442.81,124.53 L444.83,127.28 L446.86,129.90 L448.88,132.39 L450.90,134.74 L452.92,136.94 L454.94,139.00 L456.97,140.92 L458.99,142.70 L461.01,144.34 L463.03,145.85 L465.06,147.24 L467.08,148.52 L469.10,149.68 L471.12,150.75 L473.14,151.73 L475.17,152.62 L477.19,153.44 L479.21,154.19 L481.23,154.88 L483.26,155.52 L485.28,156.12 L487.30,156.67"/>
<path class="ens" d="M341.70,183.39 L343.72,180.87 L345.74,177.99 L347.77,174.71 L349.79,171.01 L351.81,166.89 L353.83,162.36 L355.86,157.45 L357.88,152.21 L359.90,146.69 L361.92,140.94 L363.94,135.02 L365.97,129.01 L367.99,122.97 L370.01,116.97 L372.03,111.09 L374.06,105.38 L376.08,99.93 L378.10,94.79 L380.12,90.01 L382.14,85.64 L384.17,81.72 L386.19,78.27 L388.21,75.33 L390.23,72.90 L392.26,70.97 L394.28,69.54 L396.30,68.59 L398.32,68.07 L400.34,68.07 L402.37,69.58 L404.39,72.57 L406.41,76.87 L408.43,82.20 L410.46,88.22 L412.48,94.61 L414.50,101.03 L416.52,107.21 L418.54,112.92 L420.57,118.02 L422.59,122.43 L424.61,126.14 L426.63,129.19 L428.66,131.65 L430.68,133.59 L432.70,135.12 L434.72,136.32 L436.74,137.28 L438.77,138.06 L440.79,138.70 L442.81,139.27 L444.83,139.77 L446.86,140.24 L448.88,140.68 L450.90,141.11 L452.92,141.53 L454.94,141.95 L456.97,142.37 L458.99,142.78 L461.01,143.19 L463.03,143.61 L465.06,144.02 L467.08,144.43 L469.10,144.84 L471.12,145.26 L473.14,145.67 L475.17,146.08 L477.19,146.49 L479.21,146.91 L481.23,147.32 L483.26,147.73 L485.28,148.14 L487.30,148.55"/>
<path class="ens" d="M341.70,168.96 L343.72,168.96 L345.74,168.93 L347.77,168.83 L349.79,168.63 L351.81,168.29 L353.83,167.76 L355.86,167.01 L357.88,165.97 L359.90,164.63 L361.92,162.93 L363.94,160.84 L365.97,158.35 L367.99,155.41 L370.01,152.03 L372.03,148.20 L374.06,143.93 L376.08,139.25 L378.10,134.20 L380.12,128.84 L382.14,123.23 L384.17,117.46 L386.19,111.64 L388.21,105.89 L390.23,100.35 L392.26,95.15 L394.28,90.44 L396.30,86.38 L398.32,83.12 L400.34,80.78 L402.37,79.51 L404.39,79.45 L406.41,80.11 L408.43,81.17 L410.46,82.61 L412.48,84.41 L414.50,86.53 L416.52,88.95 L418.54,91.63 L420.57,94.54 L422.59,97.62 L424.61,100.83 L426.63,104.13 L428.66,107.49 L430.68,110.85 L432.70,114.18 L434.72,117.45 L436.74,120.62 L438.77,123.68 L440.79,126.60 L442.81,129.36 L444.83,131.96 L446.86,134.38 L448.88,136.62 L450.90,138.68 L452.92,140.57 L454.94,142.30 L456.97,143.86 L458.99,145.27 L461.01,146.54 L463.03,147.68 L465.06,148.71 L467.08,149.63 L469.10,150.45 L471.12,151.20 L473.14,151.87 L475.17,152.48 L477.19,153.04 L479.21,153.55 L481.23,154.03 L483.26,154.47 L485.28,154.88 L487.30,155.28"/>
<path class="ens" d="M341.70,185.45 L343.72,182.61 L345.74,179.44 L347.77,175.87 L349.79,171.86 L351.81,167.39 L353.83,162.48 L355.86,157.12 L357.88,151.37 L359.90,145.27 L361.92,138.87 L363.94,132.23 L365.97,125.44 L367.99,118.56 L370.01,111.68 L372.03,104.87 L374.06,98.24 L376.08,91.84 L378.10,85.77 L380.12,80.09 L382.14,74.86 L384.17,70.14 L386.19,65.98 L388.21,62.40 L390.23,59.42 L392.26,57.06 L394.28,55.29 L396.30,54.11 L398.32,53.47 L400.34,53.40 L402.37,54.27 L404.39,55.88 L406.41,58.20 L408.43,61.17 L410.46,64.74 L412.48,68.82 L414.50,73.33 L416.52,78.18 L418.54,83.26 L420.57,88.49 L422.59,93.78 L424.61,99.03 L426.63,104.17 L428.66,109.13 L430.68,113.87 L432.70,118.33 L434.72,122.48 L436.74,126.31 L438.77,129.81 L440.79,132.97 L442.81,135.80 L444.83,138.32 L446.86,140.55 L448.88,142.50 L450.90,144.21 L452.92,145.70 L454.94,146.99 L456.97,148.12 L458.99,149.10 L461.01,149.95 L463.03,150.70 L465.06,151.37 L467.08,151.97 L469.10,152.50 L471.12,153.00 L473.14,153.46 L475.17,153.89 L477.19,154.30 L479.21,154.69 L481.23,155.06 L483.26,155.43 L485.28,155.80 L487.30,156.15"/>
<path class="ens" d="M341.70,187.52 L343.72,185.39 L345.74,183.05 L347.77,180.42 L349.79,177.43 L351.81,174.07 L353.83,170.31 L355.86,166.15 L357.88,161.60 L359.90,156.69 L361.92,151.43 L363.94,145.87 L365.97,140.06 L367.99,134.05 L370.01,127.90 L372.03,121.68 L374.06,115.46 L376.08,109.31 L378.10,103.31 L380.12,97.52 L382.14,92.02 L384.17,86.88 L386.19,82.15 L388.21,77.90 L390.23,74.16 L392.26,70.97 L394.28,68.37 L396.30,66.35 L398.32,64.93 L400.34,64.10 L402.37,63.83 L404.39,64.42 L406.41,65.41 L408.43,66.82 L410.46,68.61 L412.48,70.76 L414.50,73.26 L416.52,76.06 L418.54,79.13 L420.57,82.44 L422.59,85.94 L424.61,89.59 L426.63,93.35 L428.66,97.18 L430.68,101.05 L432.70,104.90 L434.72,108.72 L436.74,112.46 L438.77,116.10 L440.79,119.61 L442.81,122.99 L444.83,126.20 L446.86,129.24 L448.88,132.10 L450.90,134.77 L452.92,137.26 L454.94,139.57 L456.97,141.69 L458.99,143.65 L461.01,145.43 L463.03,147.06 L465.06,148.54 L467.08,149.89 L469.10,151.12 L471.12,152.23 L473.14,153.24 L475.17,154.16 L477.19,155.00 L479.21,155.77 L481.23,156.47 L483.26,157.12 L485.28,157.73 L487.30,158.29"/>
<path class="ens" d="M341.70,181.33 L343.72,180.64 L345.74,179.90 L347.77,179.07 L349.79,178.10 L351.81,176.95 L353.83,175.56 L355.86,173.88 L357.88,171.89 L359.90,169.53 L361.92,166.78 L363.94,163.61 L365.97,160.01 L367.99,155.96 L370.01,151.48 L372.03,146.58 L374.06,141.28 L376.08,135.63 L378.10,129.69 L380.12,123.54 L382.14,117.24 L384.17,110.91 L386.19,104.65 L388.21,98.59 L390.23,92.85 L392.26,87.56 L394.28,82.85 L396.30,78.86 L398.32,75.70 L400.34,73.47 L402.37,72.28 L404.39,72.24 L406.41,72.87 L408.43,73.82 L410.46,75.08 L412.48,76.63 L414.50,78.47 L416.52,80.57 L418.54,82.91 L420.57,85.46 L422.59,88.20 L424.61,91.11 L426.63,94.14 L428.66,97.28 L430.68,100.49 L432.70,103.74 L434.72,107.01 L436.74,110.26 L438.77,113.49 L440.79,116.66 L442.81,119.75 L444.83,122.74 L446.86,125.63 L448.88,128.40 L450.90,131.04 L452.92,133.54 L454.94,135.91 L456.97,138.13 L458.99,140.20 L461.01,142.14 L463.03,143.93 L465.06,145.60 L467.08,147.13 L469.10,148.54 L471.12,149.84 L473.14,151.03 L475.17,152.13 L477.19,153.13 L479.21,154.05 L481.23,154.89 L483.26,155.67 L485.28,156.39 L487.30,157.05"/>
<path class="ens" d="M341.70,184.42 L343.72,181.29 L345.74,178.01 L347.77,174.50 L349.79,170.72 L351.81,166.67 L353.83,162.31 L355.86,157.67 L357.88,152.75 L359.90,147.59 L361.92,142.21 L363.94,136.67 L365.97,131.00 L367.99,125.28 L370.01,119.56 L372.03,113.91 L374.06,108.40 L376.08,103.08 L378.10,98.03 L380.12,93.30 L382.14,88.94 L384.17,85.00 L386.19,81.51 L388.21,78.50 L390.23,75.98 L392.26,73.94 L394.28,72.38 L396.30,71.25 L398.32,70.52 L400.34,70.13 L402.37,70.01 L404.39,70.68 L406.41,71.86 L408.43,73.52 L410.46,75.65 L412.48,78.21 L414.50,81.16 L416.52,84.45 L418.54,88.02 L420.57,91.82 L422.59,95.79 L424.61,99.87 L426.63,104.00 L428.66,108.13 L430.68,112.22 L432.70,116.21 L434.72,120.07 L436.74,123.77 L438.77,127.28 L440.79,130.58 L442.81,133.66 L444.83,136.51 L446.86,139.14 L448.88,141.54 L450.90,143.72 L452.92,145.70 L454.94,147.48 L456.97,149.07 L458.99,150.51 L461.01,151.79 L463.03,152.94 L465.06,153.97 L467.08,154.90 L469.10,155.74 L471.12,156.50 L473.14,157.19 L475.17,157.84 L477.19,158.43 L479.21,158.99 L481.23,159.52 L483.26,160.02 L485.28,160.50 L487.30,160.97"/>
<path class="ens" d="M341.70,173.09 L343.72,171.30 L345.74,169.28 L347.77,166.96 L349.79,164.33 L351.81,161.35 L353.83,158.04 L355.86,154.39 L357.88,150.44 L359.90,146.21 L361.92,141.74 L363.94,137.06 L365.97,132.24 L367.99,127.32 L370.01,122.36 L372.03,117.43 L374.06,112.57 L376.08,107.86 L378.10,103.35 L380.12,99.09 L382.14,95.14 L384.17,91.54 L386.19,88.34 L388.21,85.55 L390.23,83.21 L392.26,81.32 L394.28,79.89 L396.30,78.92 L398.32,78.39 L400.34,78.38 L402.37,79.92 L404.39,82.90 L406.41,87.12 L408.43,92.29 L410.46,98.09 L412.48,104.14 L414.50,110.14 L416.52,115.82 L418.54,120.98 L420.57,125.50 L422.59,129.33 L424.61,132.50 L426.63,135.05 L428.66,137.08 L430.68,138.68 L432.70,139.94 L434.72,140.94 L436.74,141.76 L438.77,142.45 L440.79,143.05 L442.81,143.60 L444.83,144.11 L446.86,144.61 L448.88,145.09 L450.90,145.56 L452.92,146.03 L454.94,146.49 L456.97,146.96 L458.99,147.42 L461.01,147.88 L463.03,148.35 L465.06,148.81 L467.08,149.28 L469.10,149.74 L471.12,150.20 L473.14,150.67 L475.17,151.13 L477.19,151.60 L479.21,152.06 L481.23,152.52 L483.26,152.99 L485.28,153.45 L487.30,153.91"/>
<path class="ens" d="M341.70,175.15 L343.72,174.04 L345.74,172.70 L347.77,171.05 L349.79,169.05 L351.81,166.66 L353.83,163.90 L355.86,160.73 L357.88,157.19 L359.90,153.28 L361.92,149.03 L363.94,144.48 L365.97,139.66 L367.99,134.63 L370.01,129.44 L372.03,124.14 L374.06,118.80 L376.08,113.49 L378.10,108.27 L380.12,103.22 L382.14,98.39 L384.17,93.86 L386.19,89.68 L388.21,85.91 L390.23,82.60 L392.26,79.79 L394.28,77.53 L396.30,75.83 L398.32,74.71 L400.34,74.18 L402.37,74.69 L404.39,76.67 L406.41,79.88 L408.43,84.16 L410.46,89.30 L412.48,95.04 L414.50,101.11 L416.52,107.26 L418.54,113.25 L420.57,118.90 L422.59,124.08 L424.61,128.70 L426.63,132.72 L428.66,136.15 L430.68,139.03 L432.70,141.41 L434.72,143.35 L436.74,144.94 L438.77,146.24 L440.79,147.32 L442.81,148.22 L444.83,149.00 L446.86,149.70 L448.88,150.33 L450.90,150.92 L452.92,151.48 L454.94,152.02 L456.97,152.55 L458.99,153.08 L461.01,153.60 L463.03,154.12 L465.06,154.63 L467.08,155.15 L469.10,155.67 L471.12,156.18 L473.14,156.70 L475.17,157.21 L477.19,157.73 L479.21,158.24 L481.23,158.76 L483.26,159.27 L485.28,159.79 L487.30,160.30"/>
<path class="ens" d="M341.70,166.90 L343.72,165.49 L345.74,163.95 L347.77,162.19 L349.79,160.19 L351.81,157.89 L353.83,155.29 L355.86,152.36 L357.88,149.11 L359.90,145.53 L361.92,141.64 L363.94,137.45 L365.97,133.01 L367.99,128.34 L370.01,123.49 L372.03,118.50 L374.06,113.44 L376.08,108.37 L378.10,103.34 L380.12,98.42 L382.14,93.68 L384.17,89.18 L386.19,84.99 L388.21,81.16 L390.23,77.75 L392.26,74.79 L394.28,72.34 L396.30,70.42 L398.32,69.04 L400.34,68.22 L402.37,67.95 L404.39,68.92 L406.41,70.56 L408.43,72.84 L410.46,75.72 L412.48,79.12 L414.50,82.96 L416.52,87.15 L418.54,91.59 L420.57,96.17 L422.59,100.81 L424.61,105.41 L426.63,109.91 L428.66,114.23 L430.68,118.31 L432.70,122.14 L434.72,125.66 L436.74,128.88 L438.77,131.80 L440.79,134.42 L442.81,136.75 L444.83,138.82 L446.86,140.65 L448.88,142.26 L450.90,143.69 L452.92,144.97 L454.94,146.10 L456.97,147.13 L458.99,148.06 L461.01,148.92 L463.03,149.72 L465.06,150.48 L467.08,151.19 L469.10,151.89 L471.12,152.56 L473.14,153.21 L475.17,153.86 L477.19,154.49 L479.21,155.13 L481.23,155.75 L483.26,156.38 L485.28,157.00 L487.30,157.62"/>
<path d="M341.80,173.30 C342.18,173.55 343.23,174.35 344.10,174.80 C344.97,175.25 345.78,175.55 347.00,176.00 C348.22,176.45 350.07,177.12 351.40,177.50 C352.73,177.88 353.73,178.10 355.00,178.30 C356.27,178.50 357.75,178.67 359.00,178.70 C360.25,178.73 361.48,178.63 362.50,178.50 C363.52,178.37 364.27,178.22 365.10,177.90 C365.93,177.58 366.73,177.18 367.50,176.60 C368.27,176.02 369.05,175.25 369.70,174.40 C370.35,173.55 370.90,172.50 371.40,171.50 C371.90,170.50 372.30,169.65 372.70,168.40 C373.10,167.15 373.48,165.40 373.80,164.00 C374.12,162.60 374.23,161.92 374.60,160.00 C374.97,158.08 375.50,155.00 376.00,152.50 C376.50,150.00 377.07,147.42 377.60,145.00 C378.13,142.58 378.65,140.33 379.20,138.00 C379.75,135.67 380.33,133.50 380.90,131.00 C381.47,128.50 382.03,125.67 382.60,123.00 C383.17,120.33 383.73,117.50 384.30,115.00 C384.87,112.50 385.43,110.25 386.00,108.00 C386.57,105.75 387.12,104.00 387.70,101.50 C388.28,99.00 388.88,96.00 389.50,93.00 C390.12,90.00 390.82,86.50 391.40,83.50 C391.98,80.50 392.52,77.58 393.00,75.00 C393.48,72.42 393.83,70.00 394.30,68.00 C394.77,66.00 395.27,64.45 395.80,63.00 C396.33,61.55 396.88,60.30 397.50,59.30 C398.12,58.30 398.85,57.52 399.50,57.00 C400.15,56.48 400.73,56.23 401.40,56.20 C402.07,56.17 402.72,56.33 403.50,56.80 C404.28,57.27 405.27,57.92 406.10,59.00 C406.93,60.08 407.75,61.68 408.50,63.30 C409.25,64.92 409.88,66.75 410.60,68.70 C411.32,70.65 411.83,71.78 412.80,75.00 C413.77,78.22 415.37,84.33 416.40,88.00 C417.43,91.67 418.22,94.17 419.00,97.00 C419.78,99.83 420.32,102.17 421.10,105.00 C421.88,107.83 422.82,111.25 423.70,114.00 C424.58,116.75 425.43,119.25 426.40,121.50 C427.37,123.75 428.40,125.58 429.50,127.50 C430.60,129.42 431.85,131.33 433.00,133.00 C434.15,134.67 435.23,136.08 436.40,137.50 C437.57,138.92 438.77,140.13 440.00,141.50 C441.23,142.87 442.53,144.43 443.80,145.70 C445.07,146.97 446.23,147.97 447.60,149.10 C448.97,150.23 450.23,151.10 452.00,152.50 C453.77,153.90 456.20,156.17 458.20,157.50 C460.20,158.83 462.00,159.75 464.00,160.50 C466.00,161.25 467.87,161.53 470.20,162.00 C472.53,162.47 475.22,162.92 478.00,163.30 C480.78,163.68 485.42,164.13 486.90,164.30" stroke="#000" stroke-width="2.1"/>
<path d="M341.80,178.30 C342.77,176.79 345.62,172.23 347.60,169.26 C349.58,166.29 352.30,162.56 353.70,160.49 C355.10,158.42 354.62,159.11 356.00,156.86 C357.38,154.61 359.93,150.43 362.00,147.00 C364.07,143.57 366.57,139.55 368.40,136.30 C370.23,133.05 371.43,130.88 373.00,127.50 C374.57,124.12 376.30,119.67 377.80,116.00 C379.30,112.33 380.60,109.00 382.00,105.50 C383.40,102.00 385.07,98.00 386.20,95.00 C387.33,92.00 387.77,89.93 388.80,87.50 C389.83,85.07 391.20,82.32 392.40,80.40 C393.60,78.48 394.58,77.12 396.00,76.00 C397.42,74.88 399.40,73.87 400.90,73.70 C402.40,73.53 403.73,74.20 405.00,75.00 C406.27,75.80 407.50,77.25 408.50,78.50 C409.50,79.75 410.20,81.08 411.00,82.50 C411.80,83.92 412.47,85.17 413.30,87.00 C414.13,88.83 415.13,91.42 416.00,93.50 C416.87,95.58 417.72,97.58 418.50,99.50 C419.28,101.42 419.87,103.08 420.70,105.00 C421.53,106.92 422.53,109.08 423.50,111.00 C424.47,112.92 425.42,114.78 426.50,116.50 C427.58,118.22 428.75,119.85 430.00,121.30 C431.25,122.75 432.83,124.03 434.00,125.20 C435.17,126.37 435.92,127.20 437.00,128.30 C438.08,129.40 439.33,130.63 440.50,131.80 C441.67,132.97 442.75,134.12 444.00,135.30 C445.25,136.48 446.67,137.80 448.00,138.90 C449.33,140.00 450.67,140.95 452.00,141.90 C453.33,142.85 454.67,143.70 456.00,144.60 C457.33,145.50 458.17,146.15 460.00,147.30 C461.83,148.45 465.00,150.47 467.00,151.50 C469.00,152.53 470.23,152.92 472.00,153.50 C473.77,154.08 475.10,154.38 477.60,155.00 C480.10,155.62 485.43,156.83 487.00,157.20" stroke="#f00" stroke-width="1.9"/>
<path d="M341.80,166.20 C342.52,165.35 344.50,162.89 346.10,161.10 C347.70,159.31 349.45,157.63 351.40,155.43 C353.35,153.23 355.78,150.26 357.80,147.89 C359.82,145.52 361.65,143.35 363.50,141.20 C365.35,139.05 367.02,137.70 368.90,135.00 C370.78,132.30 372.87,128.33 374.80,125.00 C376.73,121.67 378.75,118.33 380.50,115.00 C382.25,111.67 383.73,108.33 385.30,105.00 C386.87,101.67 388.72,97.37 389.90,95.00 C391.08,92.63 391.52,92.22 392.40,90.80 C393.28,89.38 394.27,87.63 395.20,86.50 C396.13,85.37 396.97,84.63 398.00,84.00 C399.03,83.37 400.23,82.78 401.40,82.70 C402.57,82.62 403.82,82.93 405.00,83.50 C406.18,84.07 407.33,84.77 408.50,86.10 C409.67,87.43 410.67,89.85 412.00,91.50 C413.33,93.15 415.25,94.42 416.50,96.00 C417.75,97.58 418.55,99.50 419.50,101.00 C420.45,102.50 421.12,103.33 422.20,105.00 C423.28,106.67 424.70,108.92 426.00,111.00 C427.30,113.08 428.67,115.58 430.00,117.50 C431.33,119.42 432.73,121.00 434.00,122.50 C435.27,124.00 436.43,125.20 437.60,126.50 C438.77,127.80 439.77,128.92 441.00,130.30 C442.23,131.68 443.58,133.22 445.00,134.80 C446.42,136.38 448.12,138.17 449.50,139.80 C450.88,141.43 451.90,143.02 453.30,144.60 C454.70,146.18 456.45,148.07 457.90,149.30 C459.35,150.53 460.48,151.18 462.00,152.00 C463.52,152.82 464.67,153.45 467.00,154.20 C469.33,154.95 472.68,155.70 476.00,156.50 C479.32,157.30 485.08,158.58 486.90,159.00" stroke="#00a7ea" stroke-width="1.9"/>
</g>
<g fill="none" stroke="#262626" stroke-width="1.5">
<rect x="60.4" y="38.7" width="170.10" height="152.90"/>
<rect x="341.7" y="49.4" width="157.40" height="144.30"/>
</g>
<g class="ev">
<text x="112.4" y="259.6" textLength="40.6" lengthAdjust="spacingAndGlyphs">Event 5</text>
<text x="396.2" y="255.9" textLength="40.2" lengthAdjust="spacingAndGlyphs">Event 6</text>
</g>
</svg>
</body></html>
